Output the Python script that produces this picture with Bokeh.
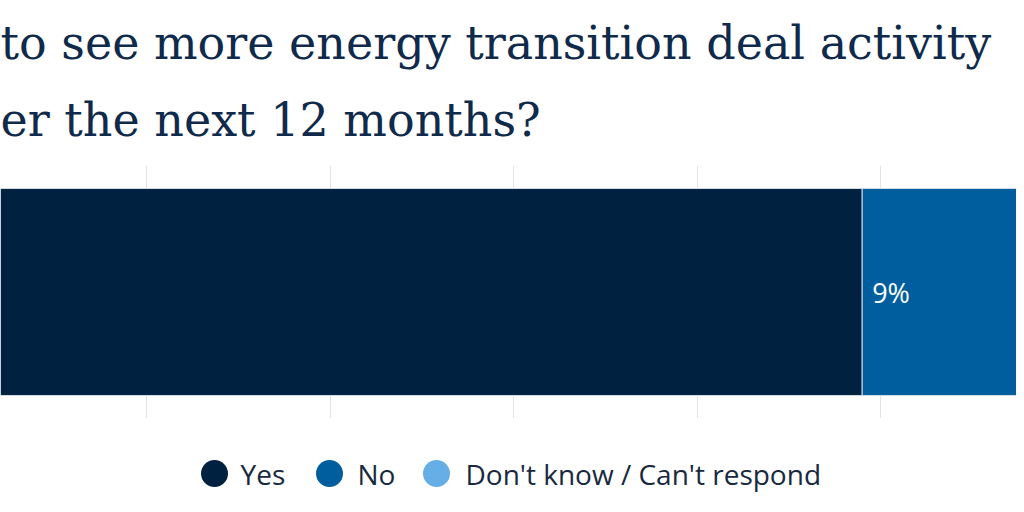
from bokeh.plotting import figure
from bokeh.layouts import column
from bokeh.core.properties import value
from bokeh.models import (ColumnDataSource, FactorRange, Range1d, FixedTicker,
                          LabelSet)
from bokeh.embed import file_html
from bokeh.resources import INLINE

# data
question = "Q"
answers = ["Yes", "No", "Don't know / Can't respond"]
shares = [89, 9, 2]
colors = ["#00213f", "#005e9e", "#66aee6"]
title_lines = ["to see more energy transition deal activity",
               "er the next 12 months?"]
grid_ticks = [50, 60, 70, 80, 90]

W = 1016
NAVY = "#0f2a4a"
X_VIEW = (42.04, 97.41)  # visible slice of the 0-100% axis


def blank(height, x_range, y_range):
    f = figure(width=W, height=height, output_backend="svg", toolbar_location=None,
               x_range=x_range, y_range=y_range, min_border=0)
    f.axis.visible = False
    f.grid.visible = False
    f.outline_line_color = None
    return f


# title (page-pixel coordinates)
top = blank(165, Range1d(0, W), Range1d(165, 0))
top.text(x=[0, 0], y=[42, 119], text=title_lines, text_font=value("DejaVu Serif"),
         text_font_size="46px", text_color=NAVY, text_baseline="alphabetic")

# stacked bar
lefts = [sum(shares[:i]) for i in range(len(shares))]
rights = [l + s for l, s in zip(lefts, shares)]
src = ColumnDataSource(dict(
    y=[question] * len(shares), left=lefts, right=rights, color=colors,
))

p = blank(253, Range1d(*X_VIEW), FactorRange(factors=[question]))
p.y_range.range_padding = 0
p.xgrid.visible = True
p.xgrid.ticker = FixedTicker(ticks=grid_ticks)
p.xgrid.grid_line_color = "#e4e4e4"
p.xgrid.grid_line_width = 1
p.hbar(y="y", left="left", right="right", height=0.818, color="color",
       line_color="#d3dbe4", line_width=1, source=src)

# only the value labels whose segment starts inside the visible slice
shown = [i for i, l in enumerate(lefts) if X_VIEW[0] <= l < X_VIEW[1] - 3]
lbl = ColumnDataSource(dict(
    y=[question] * len(shown), left=[lefts[i] for i in shown],
    pct=[f"{shares[i]}%" for i in shown],
))
p.add_layout(LabelSet(x="left", y="y", text="pct", source=lbl, x_offset=10,
                      text_baseline="middle", text_color="white",
                      text_font=value("Open Sans"), text_font_size="27px"))

# legend (page-pixel coordinates)
legend_dot_x = [214, 329, 436]
legend_text_x = [240, 357, 465]
bottom = blank(86, Range1d(0, W), Range1d(86, 0))
bottom.scatter(x=legend_dot_x, y=[55] * 3, marker="circle", size=27,
               color=colors, line_color=None)
bottom.text(x=legend_text_x, y=[55] * 3, text=answers, text_baseline="middle",
            text_font=value("Open Sans"), text_font_size="28px",
            text_color="#18293f")

layout = column(top, p, bottom, spacing=0)
open("out.html", "w").write(file_html(layout, INLINE))
